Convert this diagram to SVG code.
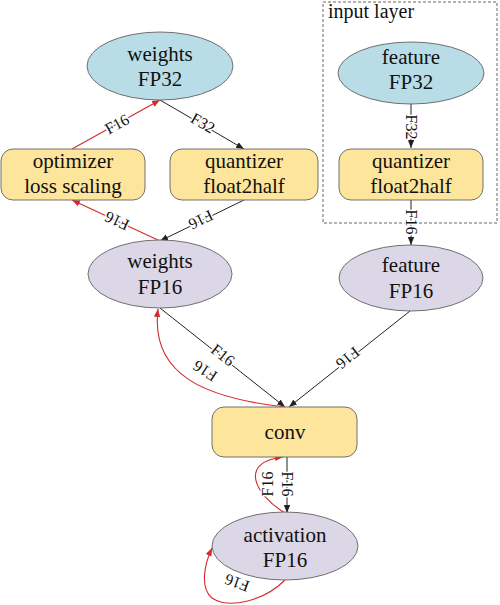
<svg xmlns="http://www.w3.org/2000/svg" width="500" height="605" viewBox="0 0 500 605" font-family="'Liberation Serif', 'Times New Roman', serif">
<defs>
<marker id="ab" viewBox="0 0 10 10" refX="10" refY="5" markerWidth="8" markerHeight="8" markerUnits="userSpaceOnUse" orient="auto"><path d="M0,1 L10,5 L0,9 z" fill="#222"/></marker>
<marker id="ar" viewBox="0 0 10 10" refX="10" refY="5" markerWidth="8" markerHeight="8" markerUnits="userSpaceOnUse" orient="auto"><path d="M0,1 L10,5 L0,9 z" fill="#d42a2a"/></marker>
</defs>
<g id="input-layer">
<rect x="323" y="2" width="174" height="221" fill="none" stroke="#666" stroke-width="1" stroke-dasharray="3,2"/>
<text x="328" y="18" font-size="20" fill="#111">input layer</text>
</g>
<g id="edges">
<g fill="none" stroke="#222" stroke-width="1" marker-end="url(#ab)">
<line x1="160" y1="100" x2="244" y2="149"/>
<line x1="244" y1="200" x2="160" y2="241"/>
<line x1="411" y1="104" x2="411" y2="148"/>
<line x1="411" y1="200" x2="411" y2="245"/>
<line x1="160" y1="308" x2="285" y2="407"/>
<line x1="410" y1="311" x2="289" y2="407"/>
<line x1="287" y1="457" x2="287" y2="513"/>
</g>
<g fill="none" stroke="#d42a2a" stroke-width="1.1" marker-end="url(#ar)">
<line x1="72" y1="149" x2="160" y2="100"/>
<line x1="160" y1="241" x2="72" y2="200"/>
<path d="M285,407 C205,398 150,375 158,309"/>
<path d="M285,513 C255,495 238,462 283,457"/>
<path d="M285,580 C265,600 230,610 212,598 C200,588 204,565 212,548"/>
</g>
<g font-size="16" fill="#111" text-anchor="middle" dominant-baseline="central" stroke="#fff" stroke-width="3" paint-order="stroke">
<text transform="translate(203,123) rotate(30)">F32</text>
<text transform="translate(117,124) rotate(-29)">F16</text>
<text transform="translate(201,220) rotate(154)">F16</text>
<text transform="translate(117,221) rotate(205)">F16</text>
<text transform="translate(411,127) rotate(90)">F32</text>
<text transform="translate(411,222) rotate(90)">F16</text>
<text transform="translate(223,355) rotate(38.5)">F16</text>
<text transform="translate(205,371) rotate(213)">F16</text>
<text transform="translate(348,358) rotate(141.5)">F16</text>
<text transform="translate(287,484) rotate(90)">F16</text>
<text transform="translate(267,484) rotate(-90)">F16</text>
<text transform="translate(237,583) rotate(200)">F16</text>
</g>
</g>
<g id="nodes" font-size="21" text-anchor="middle" fill="#111" stroke-width="1">
<g id="weights-fp32">
<ellipse cx="160" cy="66" rx="73" ry="34" fill="#b8dde7" stroke="#707070"/>
<text x="160" y="61">weights</text>
<text x="160" y="86">FP32</text>
</g>
<g id="feature-fp32">
<ellipse cx="411" cy="73" rx="73" ry="31" fill="#b8dde7" stroke="#707070"/>
<text x="411" y="64">feature</text>
<text x="411" y="89">FP32</text>
</g>
<g id="optimizer">
<rect x="1" y="149" width="144" height="51" rx="12" fill="#fde59c" stroke="#707070"/>
<text x="73" y="168">optimizer</text>
<text x="73" y="193">loss scaling</text>
</g>
<g id="quantizer-weights">
<rect x="170" y="149" width="148" height="51" rx="12" fill="#fde59c" stroke="#707070"/>
<text x="244" y="168">quantizer</text>
<text x="244" y="193">float2half</text>
</g>
<g id="quantizer-feature">
<rect x="339" y="149" width="144" height="51" rx="12" fill="#fde59c" stroke="#707070"/>
<text x="411" y="168">quantizer</text>
<text x="411" y="193">float2half</text>
</g>
<g id="weights-fp16">
<ellipse cx="160" cy="274" rx="72" ry="34" fill="#dcd7e6" stroke="#707070"/>
<text x="160" y="268">weights</text>
<text x="160" y="294">FP16</text>
</g>
<g id="feature-fp16">
<ellipse cx="411" cy="278" rx="72" ry="33" fill="#dcd7e6" stroke="#707070"/>
<text x="411" y="272">feature</text>
<text x="411" y="298">FP16</text>
</g>
<g id="conv">
<rect x="212" y="407" width="145" height="50" rx="12" fill="#fde59c" stroke="#707070"/>
<text x="285" y="439">conv</text>
</g>
<g id="activation-fp16">
<ellipse cx="285" cy="546" rx="73" ry="34" fill="#dcd7e6" stroke="#707070"/>
<text x="285" y="542">activation</text>
<text x="285" y="567">FP16</text>
</g>
</g>
</svg>
